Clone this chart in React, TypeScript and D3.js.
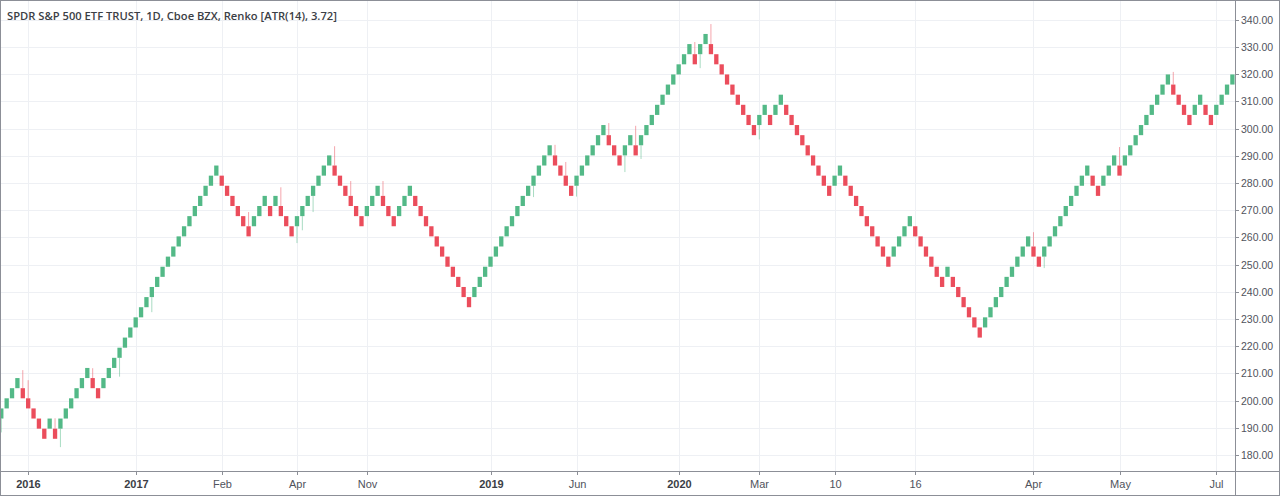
import React from 'react'
import * as d3 from 'd3'

const title = 'SPDR S&P 500 ETF TRUST, 1D, Cboe BZX, Renko [ATR(14), 3.72]'
const boxSize = 3.72
const firstOpen = 193.4

// brick runs: positive = up (green) bricks, negative = down (red)
const runs = [
  4, -5, 1, -1, 6, -2, 22, -6, 3, -1, 1, -3, 7, -6, 3, -3, 3, -11, 15, -4,
  6, -3, 2, -1, 10, -1, 2, -9, 2, -1, 2, -9, 2, -9, 4, -6, 1, -6, 9, -2,
  9, -2, 3, -1, 9, -4, 2, -2, 4,
]

// wicks: brick index and the high / low reached past the brick
const wickBricks = [0, 4, 5, 10, 11, 17, 22, 28, 46, 52, 55, 56, 58, 62, 65, 71, 99, 103, 105, 107, 113, 116, 118, 119, 129, 130, 132, 141, 192, 194, 208, 218]
const wickPrices = [188.3, 211.2, 207.5, 193.5, 182.9, 211.9, 208.8, 232.5, 269.3, 278.4, 257.9, 262.6, 269.3, 293.5, 280.7, 280.7, 274.8, 294, 287.7, 275, 302, 284, 301, 288.8, 331.8, 322.2, 338.4, 296, 261.9, 248.7, 293.2, 320.8]

const priceTicks = [180, 190, 200, 210, 220, 230, 240, 250, 260, 270, 280, 290, 300, 310, 320, 330, 340]
const timeLabels = ['2016', '2017', 'Feb', 'Apr', 'Nov', '2019', 'Jun', '2020', 'Mar', '10', '16', 'Apr', 'May', 'Jul']
const timeBricks = [5, 25, 41, 55, 68, 91, 107, 126, 141, 155, 170, 192, 208, 226]

const upColor = '#53b987'
const downColor = '#eb4d5c'
const gridColor = '#eef0f4'
const lineColor = '#8c8f97'
const textColor = '#50535c'

type Brick = { i: number; lo: number; hi: number; up: boolean }

function buildBricks(): Brick[] {
  const out: Brick[] = []
  let level = -1
  runs.forEach(r => {
    const step = Math.sign(r)
    for (let j = 0; j < Math.abs(r); j++) {
      level += step
      const lo = firstOpen + level * boxSize
      out.push({ i: out.length, lo, hi: lo + boxSize, up: step > 0 })
    }
  })
  return out
}

const W = 1280
const H = 496
const plotRight = 1235
const plotBottom = 471

export default function App() {
  const bricks = buildBricks()

  const x = d3.scaleBand<number>()
    .domain(d3.range(bricks.length))
    .range([-1.4, 1235.1])
    .paddingInner(0.2)
    .paddingOuter(0.1)
  const bw = x.bandwidth()
  const cx = (i: number) => (x(i) ?? 0) + bw / 2

  const y = d3.scaleLinear().domain([180, 340]).range([455, 19.7])

  const isYear = (s: string) => /^\d{4}$/.test(s)

  return (
    <div style={{ position: 'absolute', left: 0, top: 0 }}>
      <style>{'body{margin:0}'}</style>
      <svg width={W} height={H} style={{ display: 'block', background: '#fff' }}>
        <defs>
          <clipPath id="plot-clip">
            <rect x={0} y={0} width={plotRight} height={plotBottom} />
          </clipPath>
        </defs>

        {/* grid */}
        <g>
          {priceTicks.map(p => (
            <line key={p} x1={0} x2={plotRight} y1={Math.round(y(p)) + 0.5} y2={Math.round(y(p)) + 0.5} stroke={gridColor} />
          ))}
          {timeBricks.map((b, k) => (
            <line key={k} x1={Math.round(cx(b)) + 0.5} x2={Math.round(cx(b)) + 0.5} y1={0} y2={plotBottom} stroke={gridColor} />
          ))}
        </g>

        {/* bricks + wicks */}
        <g clipPath="url(#plot-clip)">
          {wickBricks.map((b, k) => {
            const brick = bricks[b]
            const p = wickPrices[k]
            const edge = p > brick.hi ? brick.hi : brick.lo
            return (
              <line key={'w' + k} x1={cx(b)} x2={cx(b)} y1={y(p)} y2={y(edge)}
                stroke={brick.up ? upColor : downColor} strokeOpacity={0.5} strokeWidth={1} />
            )
          })}
          {bricks.map(d => (
            <rect key={d.i} x={x(d.i)} y={y(d.hi)} width={bw} height={y(d.lo) - y(d.hi)}
              fill={d.up ? upColor : downColor} />
          ))}
        </g>

        {/* price axis */}
        <line x1={plotRight + 0.5} x2={plotRight + 0.5} y1={0} y2={H} stroke={lineColor} />
        {priceTicks.map(p => (
          <g key={p} transform={`translate(0, ${Math.round(y(p)) + 0.5})`}>
            <line x1={plotRight} x2={plotRight + 4} stroke={lineColor} />
            <text x={plotRight + 6} dy="0.35em" fontSize={10.5} fill={textColor}
              style={{ fontFamily: '"Liberation Sans", Arial, sans-serif' }}>
              {d3.format('.2f')(p)}
            </text>
          </g>
        ))}

        {/* time axis */}
        <line x1={0} x2={W} y1={plotBottom + 0.5} y2={plotBottom + 0.5} stroke={lineColor} />
        {timeLabels.map((t, k) => {
          const xx = Math.round(cx(timeBricks[k])) + 0.5
          return (
            <g key={k}>
              <line x1={xx} x2={xx} y1={plotBottom} y2={plotBottom + 4} stroke={lineColor} />
              <text x={xx} y={488} textAnchor="middle" fontSize={11} fill={isYear(t) ? '#3b3e45' : textColor}
                fontWeight={isYear(t) ? 700 : 400}
                style={{ fontFamily: '"Liberation Sans", Arial, sans-serif' }}>
                {t}
              </text>
            </g>
          )
        })}

        {/* title */}
        <text x={7} y={20} fontSize={11.2} fontWeight={600} fill="#3b3e45"
          style={{ fontFamily: '"Open Sans", "Noto Sans", sans-serif' }}>
          {title}
        </text>

        {/* frame */}
        <rect x={0.5} y={0.5} width={W - 1} height={H - 1} fill="none" stroke={lineColor} />
      </svg>
    </div>
  )
}
